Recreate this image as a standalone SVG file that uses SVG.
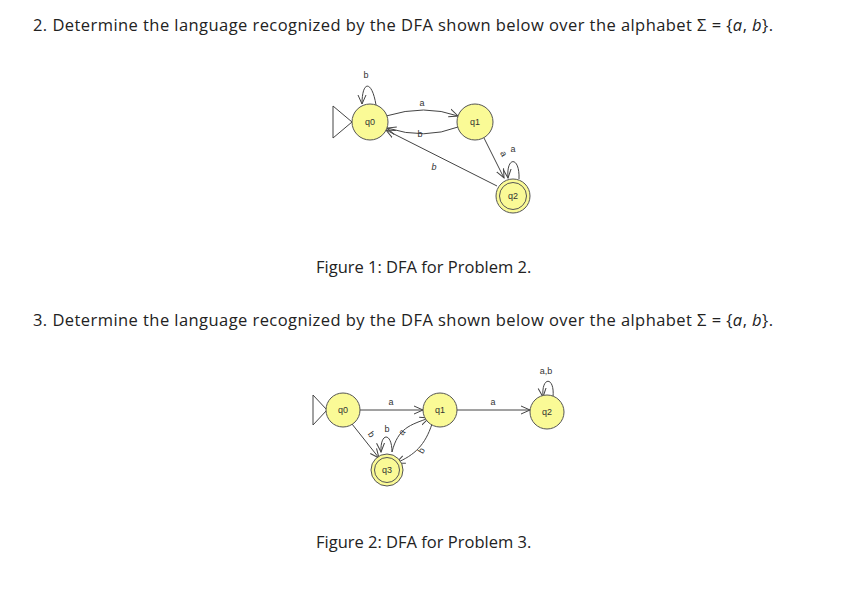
<svg xmlns="http://www.w3.org/2000/svg" width="862" height="601" viewBox="0 0 862 601">
<style>
.t{font-family:"Open Sans","Liberation Sans",sans-serif;font-size:16.5px;fill:#222}
.n{fill:#fafa96;stroke:#555;stroke-width:1}
.l{font-family:"Liberation Sans",sans-serif;font-size:9px;fill:#333;text-anchor:middle}
.e{fill:none;stroke:#444;stroke-width:1}
.i{fill:#fff;stroke:#444;stroke-width:1}
</style>
<defs><marker id="a" markerWidth="10" markerHeight="10" refX="9" refY="5" orient="auto" markerUnits="userSpaceOnUse"><path d="M0,1 L9,5 L0,9" fill="none" stroke="#444"/></marker></defs>
<rect width="862" height="601" fill="#fff"/>
<text class="t" x="33" y="31" textLength="740">2. Determine the language recognized by the DFA shown below over the alphabet Σ = {<tspan font-style="italic">a</tspan>, <tspan font-style="italic">b</tspan>}.</text>
<text class="t" x="316" y="273">Figure 1: DFA for Problem 2.</text>
<text class="t" x="33" y="326" textLength="740">3. Determine the language recognized by the DFA shown below over the alphabet Σ = {<tspan font-style="italic">a</tspan>, <tspan font-style="italic">b</tspan>}.</text>
<text class="t" x="316" y="548">Figure 2: DFA for Problem 3.</text>
<g id="connectors">
<path class="e" marker-end="url(#a)" d="M376,105 C372,80 362,80 362,104"/>
<path class="e" marker-end="url(#a)" d="M386,116 Q425,104 458,116"/>
<path class="e" marker-end="url(#a)" d="M458,127 Q425,140 387,128"/>
<path class="e" marker-end="url(#a)" d="M497,186 L386,130"/>
<path class="e" marker-end="url(#a)" d="M484,138 L504,178"/>
<path class="e" marker-end="url(#a)" d="M519,179 C520,156 506,156 508,178"/>
<path class="e" marker-end="url(#a)" d="M360,410 L423,410"/>
<path class="e" marker-end="url(#a)" d="M457,410 L530,410"/>
<path class="e" marker-end="url(#a)" d="M352,424 L379,458"/>
<path class="e" marker-end="url(#a)" d="M392,452 C398,428 410,425 429,418"/>
<path class="e" marker-end="url(#a)" d="M432,424 C425,445 415,455 396,463"/>
<path class="e" marker-end="url(#a)" d="M392,452 C392,432 380,432 381,452"/>
<path class="e" marker-end="url(#a)" d="M553,397 C555,376 541,376 543,397"/>
</g>
<g id="labels">
<text class="l" x="366" y="78">b</text>
<text class="l" x="422" y="106">a</text>
<text class="l" x="420" y="137">b</text>
<text class="l" x="434" y="170" font-style="italic">b</text>
<text class="l" x="501" y="155" transform="rotate(65 501 155)">a</text>
<text class="l" x="513" y="152">a</text>
<text class="l" x="391" y="405">a</text>
<text class="l" x="493" y="405">a</text>
<text class="l" x="369" y="436" transform="rotate(55 369 436)">b</text>
<text class="l" x="387" y="432">b</text>
<text class="l" x="404" y="434" transform="rotate(-50 404 434)">a</text>
<text class="l" x="424" y="452" transform="rotate(-60 424 452)">b</text>
<text class="l" x="546" y="374">a,b</text>
</g>
<g id="q0"><path class="i" d="M333,106 L352,122 L333,138 Z"/><circle class="n" cx="370" cy="122" r="18"/><text class="l" x="370" y="125">q0</text></g>
<g id="q1"><circle class="n" cx="475" cy="122" r="18"/><text class="l" x="475" y="125">q1</text></g>
<g id="q2"><circle class="n" cx="513" cy="196" r="17"/><circle class="n" cx="513" cy="196" r="13.5"/><text class="l" x="513" y="199">q2</text></g>
<g id="f2q0"><path class="i" d="M313,395 L327,410 L313,425 Z"/><circle class="n" cx="343" cy="410" r="17"/><text class="l" x="343" y="413">q0</text></g>
<g id="f2q1"><circle class="n" cx="440" cy="410" r="17"/><text class="l" x="440" y="413">q1</text></g>
<g id="f2q2"><circle class="n" cx="547" cy="412" r="17"/><text class="l" x="547" y="415">q2</text></g>
<g id="f2q3"><circle class="n" cx="387" cy="470" r="16"/><circle class="n" cx="387" cy="470" r="12.5"/><text class="l" x="387" y="473">q3</text></g>
</svg>
